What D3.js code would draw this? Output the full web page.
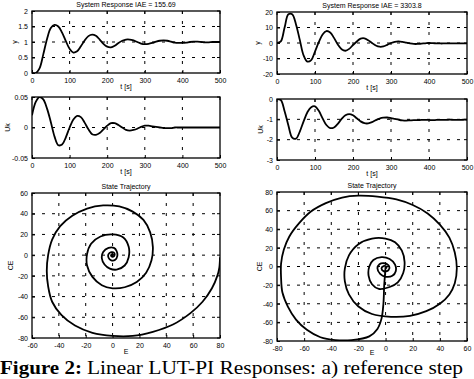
<!DOCTYPE html>
<html><head><meta charset="utf-8">
<script src="https://cdn.jsdelivr.net/npm/d3@7"></script>
<style>body{margin:0;background:#fff}svg{display:block}</style>
</head><body>
<svg id="c" width="474" height="379"></svg>
<script>
// ---- data ----
const timeA = d3.range(0, 501, 10);
const yLeft = [0,0,0.15,0.6,1.1,1.45,1.55,1.5,1.3,1.03,0.78,0.66,0.7,0.86,1.05,1.19,1.24,1.2,1.08,0.94,0.85,0.83,0.88,0.97,1.04,1.08,1.08,1.05,1.0,0.95,0.93,0.94,0.97,1.01,1.04,1.05,1.04,1.01,0.98,0.97,0.97,0.98,1.0,1.01,1.01,1.0,0.99,0.99,1.0,1.0,1.0];
const yRight = [0,1,10,18.5,18.5,12,2,-8,-12,-11,-5.5,0.5,5.5,7.7,6.8,3.3,-1,-4,-5,-3.8,-1.3,1,2.8,3,1.8,0,-1.6,-2.4,-2.2,-1.2,0,0.8,1,0.7,0.2,-0.3,-0.6,-0.6,-0.4,-0.2,0,-0.1,-0.2,-0.3,-0.3,-0.3,-0.3,-0.3,-0.3,-0.3,-0.3];
const ukLeft = [0.02,0.042,0.05,0.046,0.031,0.009,-0.015,-0.029,-0.028,-0.016,0.0,0.013,0.019,0.017,0.008,-0.003,-0.011,-0.012,-0.009,-0.003,0.003,0.007,0.007,0.004,0.0,-0.004,-0.005,-0.004,-0.002,0.001,0.003,0.003,0.002,0.001,0.0,-0.001,-0.001,-0.001,0,0,0,0,0,0,0,0,0,0,0,0,0];
const ukRight = [0,-0.05,-0.6,-1.3,-1.9,-1.95,-1.6,-1.1,-0.65,-0.4,-0.36,-0.58,-0.95,-1.28,-1.43,-1.4,-1.22,-0.98,-0.8,-0.74,-0.8,-0.95,-1.1,-1.19,-1.2,-1.14,-1.04,-0.96,-0.92,-0.91,-0.94,-0.98,-1.02,-1.05,-1.06,-1.05,-1.04,-1.04,-1.03,-1.03,-1.03,-1.04,-1.03,-1.03,-1.03,-1.02,-1.02,-1.03,-1.03,-1.02,-1.02];
const eLeft  = [80,79.5,78,74,67,58,45,30,15,0,-15,-28,-38,-45,-48,-49,-48,-45,-39,-30,-19,-7,5,15,23,28,30,29,25,18,9,0,-8,-15,-19,-19,-16,-9,0,8,12,12,9,3,-2,-6,-8,-7,-3,1,3,3.5,2,-1,-3,-3,-1,1,1.5,0.5,-0.8,-1,0,0.4];
const ceLeft = [-2,-12,-20,-32,-45,-56,-67,-74,-78,-78,-75,-68,-58,-45,-30,-15,0,15,28,38,45,48,47,42,34,22,8,-5,-17,-26,-31,-32,-29,-21,-10,1,11,18,20,17,8,-2,-10,-14,-13,-9,-3,3,7,7,4,-1,-4.5,-5,-2.5,1,2.8,2.5,0,-1.5,-1.2,0.3,0.8,0];
const eRight  = [0,-0.5,-1,-1.6,-3,-6,-12,-25,-37,-48,-58,-66,-72,-76,-77,-77,-75,-71,-64,-55,-44,-32,-20,-6,8,20,31,40,47,51,52.5,51,47,40,30,18,4,-10,-20,-27,-30,-30,-27,-20,-10,0,7,12,14,13,9,3,-5,-10,-12.5,-12,-9,-3,3,7,7.5,5,0,-4,-6,-4.5,-1,2,2.8,1,-1.5,-3,-1.5,0.5,0.6,0];
const ceRight = [0,-10,-20,-40,-56,-67,-75,-79,-79,-76,-68,-57,-43,-28,-12,3,18,32,46,59,68,74,76,75,72,66,57,45,31,15,-2,-18,-30,-40,-48,-53,-54,-51,-43,-30,-16,-2,12,24,30,30,26,17,5,-7,-17,-22,-24,-19,-10,0,7,10,8,2,-5,-10,-11,-8,-2,2.5,3.5,1.5,-2,-5,-5,-2,0.5,0,-1.5,-2];

const titleL = "System Response IAE = 155.69";
const titleR = "System Response IAE = 3303.8";
const titleState = "State Trajectory";
const tTicks = [0,100,200,300,400,500];
const yTicksL = [0,0.5,1,1.5,2];
const yTicksR = [-20,-10,0,10,20];
const ukTicksL = [-0.05,0,0.05];
const ukTicksR = [-3,-2,-1,0];
const eTicksL = [-60,-40,-20,0,20,40,60,80];
const ceTicksL = [-80,-60,-40,-20,0,20,40,60];
const eTicksR = [-80,-60,-40,-20,0,20,40,60];
const ceTicksR = [-80,-60,-40,-20,0,20,40,60,80];

// ---- drawing ----
const svg = d3.select("#c");
const FONT = "'Liberation Sans', Arial, sans-serif";
let clipId = 0;

function panel(o){
  const x = d3.scaleLinear().domain(o.xd).range([o.l, o.r]);
  const y = d3.scaleLinear().domain(o.yd).range([o.b, o.t]);
  const g = svg.append("g");
  const id = "clip" + (clipId++);
  g.append("clipPath").attr("id", id).append("rect")
    .attr("x", o.l).attr("y", o.t).attr("width", o.r - o.l).attr("height", o.b - o.t);
  // grid
  const gd = g.append("g").attr("stroke", "#000").attr("stroke-width", 1).attr("stroke-dasharray", "3,7");
  o.xt.filter(v => v !== o.xd[0] && v !== o.xd[1]).forEach(v => {
    gd.append("line").attr("x1", x(v)).attr("x2", x(v)).attr("y1", o.t).attr("y2", o.b);
  });
  o.yt.filter(v => v !== o.yd[0] && v !== o.yd[1]).forEach(v => {
    gd.append("line").attr("y1", y(v)).attr("y2", y(v)).attr("x1", o.l).attr("x2", o.r);
  });
  // axes with inward ticks
  const fmt = v => String(v);
  const ax = g.append("g").attr("transform", `translate(0,${o.b})`)
    .call(d3.axisBottom(x).tickValues(o.xt).tickSizeInner(-3).tickSizeOuter(0).tickPadding(5).tickFormat(fmt));
  const ay = g.append("g").attr("transform", `translate(${o.l},0)`)
    .call(d3.axisLeft(y).tickValues(o.yt).tickSizeInner(-3).tickSizeOuter(0).tickPadding(4).tickFormat(fmt));
  [ax, ay].forEach(a => {
    a.select(".domain").remove();
    a.selectAll("text").attr("font-family", FONT).attr("font-size", 7).attr("fill", "#000");
    a.selectAll("line").attr("stroke", "#000");
  });
  // top/right inward ticks
  o.xt.forEach(v => g.append("line").attr("x1", x(v)).attr("x2", x(v)).attr("y1", o.t).attr("y2", o.t + 3).attr("stroke", "#000"));
  o.yt.forEach(v => g.append("line").attr("y1", y(v)).attr("y2", y(v)).attr("x1", o.r).attr("x2", o.r - 3).attr("stroke", "#000"));
  // box
  g.append("rect").attr("x", o.l).attr("y", o.t).attr("width", o.r - o.l).attr("height", o.b - o.t)
    .attr("fill", "none").attr("stroke", "#000").attr("stroke-width", 1.3);
  // data line
  const line = d3.line().x(d => x(d[0])).y(d => y(d[1])).curve(d3.curveCatmullRom.alpha(0.5));
  g.append("path").datum(o.pts).attr("clip-path", `url(#${id})`)
    .attr("d", line).attr("fill", "none").attr("stroke", "#000").attr("stroke-width", 1.8).attr("stroke-linejoin", "round");
  // labels
  if (o.title) g.append("text").attr("x", (o.l + o.r) / 2).attr("y", o.t - 4).attr("text-anchor", "middle")
    .attr("font-family", FONT).attr("font-size", 7).text(o.title);
  g.append("text").attr("x", (o.l + o.r) / 2).attr("y", o.b + o.xly).attr("text-anchor", "middle")
    .attr("font-family", FONT).attr("font-size", 7).text(o.xl);
  g.append("text").attr("transform", `translate(${o.ylx},${(o.t + o.b) / 2}) rotate(-90)`).attr("text-anchor", "middle")
    .attr("font-family", FONT).attr("font-size", 7).text(o.yl);
}

panel({l:32, r:220, t:11, b:73, xd:[0,500], yd:[0,2], xt:tTicks, yt:yTicksL,
  pts: timeA.map((t,i)=>[t,yLeft[i]]), title:titleL, xl:"t [s]", yl:"y", xly:16, ylx:17});
panel({l:277, r:467, t:12, b:74, xd:[0,500], yd:[-20,20], xt:tTicks, yt:yTicksR,
  pts: timeA.map((t,i)=>[t,yRight[i]]), title:titleR, xl:"t [s]", yl:"y", xly:16, ylx:260});
panel({l:32, r:220, t:97, b:158, xd:[0,500], yd:[-0.05,0.05], xt:tTicks, yt:ukTicksL,
  pts: timeA.map((t,i)=>[t,ukLeft[i]]), title:null, xl:"t [s]", yl:"Uk", xly:16, ylx:10});
panel({l:277, r:467, t:99, b:160, xd:[0,500], yd:[-3,0], xt:tTicks, yt:ukTicksR,
  pts: timeA.map((t,i)=>[t,ukRight[i]]), title:null, xl:"t [s]", yl:"Uk", xly:16, ylx:263});
panel({l:32, r:220, t:193, b:338, xd:[-60,80], yd:[-80,60], xt:eTicksL, yt:ceTicksL,
  pts: eLeft.map((e,i)=>[e,ceLeft[i]]), title:titleState, xl:"E", yl:"CE", xly:16, ylx:13});
panel({l:277, r:467, t:192, b:341, xd:[-80,60], yd:[-80,80], xt:eTicksR, yt:ceTicksR,
  pts: eRight.map((e,i)=>[e,ceRight[i]]), title:titleState, xl:"E", yl:"CE", xly:14, ylx:262});

// caption
const capG = svg.append("g").attr("font-family", "'Liberation Serif', 'Times New Roman', serif")
  .attr("font-size", 19).attr("fill", "#000");
capG.append("text").attr("x", 0).attr("y", 374).attr("font-weight", "bold")
  .attr("textLength", 82).attr("lengthAdjust", "spacingAndGlyphs").text("Figure 2:");
capG.append("text").attr("x", 87).attr("y", 374)
  .attr("textLength", 376).attr("lengthAdjust", "spacingAndGlyphs").text("Linear LUT-PI Responses: a) reference step");
</script>
</body></html>
